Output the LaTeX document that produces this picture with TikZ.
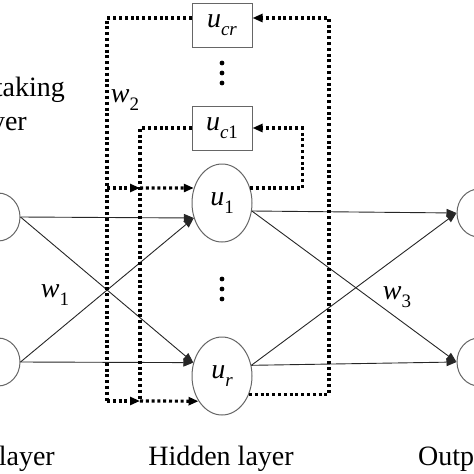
\documentclass[tikz,border=0pt]{standalone}
\usepackage{fontspec}
\setmainfont{Liberation Serif}
\usetikzlibrary{shapes.geometric,arrows.meta}
\tikzstyle{neuron} = [draw=black!60, line width=1pt, ellipse,
    minimum width=60pt, minimum height=78pt, inner sep=0pt]
\tikzstyle{inout} = [draw=black!60, line width=1pt, ellipse,
    minimum width=44pt, minimum height=48pt, inner sep=0pt]
\tikzstyle{ctxbox} = [draw=black!60, line width=1pt, rectangle,
    minimum width=60pt, minimum height=44pt, inner sep=0pt]
\tikzstyle{conn} = [draw=black!85, line width=0.9pt, -{Triangle[length=10pt,width=8pt]}]
\tikzstyle{fdb} = [draw=black, line width=3.2pt, dash pattern=on 3pt off 2.8pt]
\tikzstyle{fdbarrow} = [fdb, -{Triangle[length=10pt,width=8pt]}]
\tikzstyle{caption} = [inner sep=0pt]
\newcommand{\bigtext}{\fontsize{28}{32}\selectfont}
\newcommand{\lab}[2]{\textit{#1}\raisebox{-0.28em}{\fontsize{19}{22}\selectfont #2}}

\begin{document}
\begin{tikzpicture}[x=1pt, y=-1pt, font=\bigtext]
    \useasboundingbox (0,0) rectangle (474,474);
    \clip (0,0) rectangle (474,474);
    % input layer
    \node [inout] (in1) at (-2,217) {};
    \node [inout] (in2) at (-2,362) {};
    % hidden layer
    \node [neuron] (u1) at (222,203) {\lab{u}{1}};
    \node [neuron] (ur) at (222,376) {\lab{u}{\textit{r}}};
    % context units
    \node [ctxbox] (ucr) at (222,25) {\lab{u}{\textit{cr}}};
    \node [ctxbox] (uc1) at (222,128) {\lab{u}{\textit{c}1}};
    % output layer
    \node [inout] (out1) at (479,213) {};
    \node [inout] (out2) at (479,362) {};
    % dots between the units
    \foreach \y in {63,73,83,279,289,299}
        \fill (222,\y) circle (2.4pt);
    % forward connections
    \draw [conn] (in1.east) -- (u1.208);
    \draw [conn] (in1.east) -- (ur.155);
    \draw [conn] (in2.east) -- (u1.208);
    \draw [conn] (in2.east) -- (ur.155);
    \draw [conn] (u1.-15) -- (out1.west);
    \draw [conn] (u1.-15) -- (out2.west);
    \draw [conn] (ur.20) -- (out1.west);
    \draw [conn] (ur.20) -- (out2.west);
    % feedback to the context units
    \draw [fdbarrow] (u1.28) -- ++(52,0) |- (uc1.east);
    \draw [fdbarrow] (ur.-34) -- ++(80,0) |- ([yshift=7pt]ucr.east);
    % context units back to the hidden layer
    \coordinate (ka) at (107,188);
    \coordinate (kb) at (107,401);
    \coordinate (ja) at (140,188);
    \coordinate (jb) at (140,401);
    \draw [fdb] ([yshift=7pt]ucr.west) -| (kb);
    \draw [fdb] (uc1.west) -| (jb);
    \draw [fdbarrow] (ka) -- (ja);
    \draw [fdbarrow] (kb) -- (jb);
    \draw [fdbarrow] (ja) -- (u1.152);
    \draw [fdbarrow] (jb) -- (ur.227);
    % weights
    \node (w1) at (55,295) {\lab{w}{1}};
    \node (w2) at (125,100) {\lab{w}{2}};
    \node (w3) at (397,297) {\lab{w}{3}};
    % layer names
    \node [caption, anchor=base east] (ctx1) at (65,96) {taking};
    \node [caption, anchor=base east] (ctx2) at (27,130) {layer};
    \node [caption, anchor=base east] (inl) at (55,465) {layer};
    \node [caption, anchor=base] (hidl) at (221,465) {Hidden layer};
    \node [caption, anchor=base west] (outl) at (418,465) {Output layer};
\end{tikzpicture}
\end{document}
